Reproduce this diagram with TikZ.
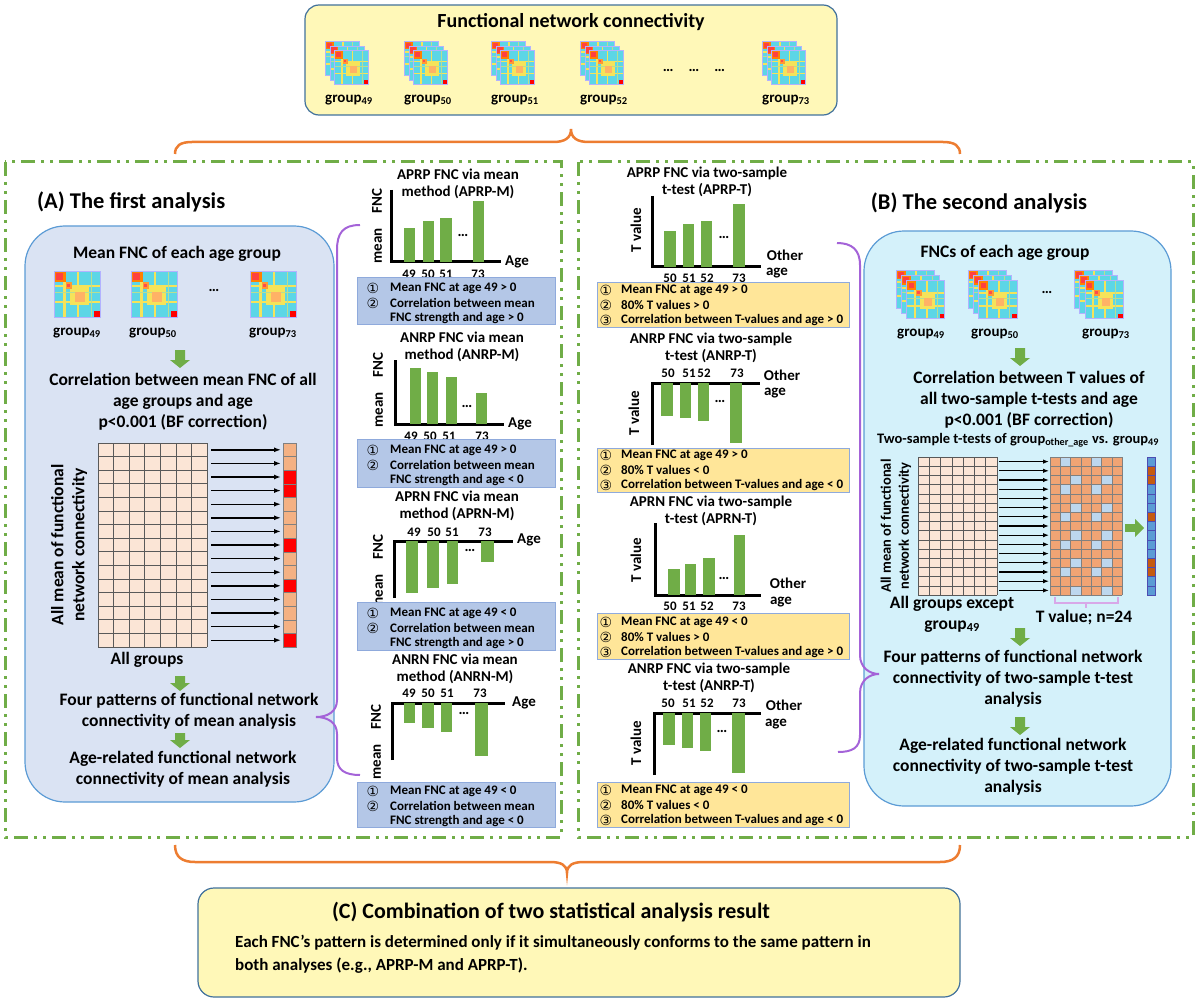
\documentclass[tikz,border=0pt]{standalone}
\usepackage{fontspec}
\setmainfont{Carlito}
\newfontfamily\djv{DejaVu Sans}
\usetikzlibrary{arrows.meta}
\definecolor{ybox}{HTML}{FFF8B8}
\definecolor{ybord}{HTML}{41719C}
\definecolor{abox}{HTML}{DAE3F3}
\definecolor{bbox}{HTML}{D4F1FA}
\definecolor{bbord}{HTML}{5B9BD5}
\definecolor{gdash}{HTML}{70AD47}
\definecolor{obr}{HTML}{ED7D31}
\definecolor{pbr}{HTML}{A463D8}
\definecolor{barg}{HTML}{70AD47}
\definecolor{mbox}{HTML}{B4C7E7}
\definecolor{mbord}{HTML}{8FAADC}
\definecolor{tbox}{HTML}{FFE699}
\definecolor{cellc}{HTML}{FBE5D6}
\definecolor{corg}{HTML}{F4B183}
\definecolor{torg}{HTML}{F1A474}
\definecolor{tblu}{HTML}{BDD7EE}
\definecolor{rblu}{HTML}{5B9BD5}
\definecolor{rbrn}{HTML}{C55A11}
\definecolor{thc}{HTML}{5CD6E6}
\definecolor{thy}{HTML}{F5E35A}
\definecolor{pinkb}{HTML}{D8A8E8}
\tikzset{
 txt/.style={font=\fontsize{17.5}{21}\selectfont\bfseries, align=center, inner sep=0pt},
 ttl/.style={font=\fontsize{15}{17.5}\selectfont\bfseries, align=center, inner sep=0pt},
 sml/.style={font=\fontsize{13}{15}\selectfont\bfseries, inner sep=0pt},
 cir/.style={font=\fontsize{14}{15}\selectfont\djv, inner sep=0pt},
 num/.style={font=\fontsize{13}{14}\selectfont\bfseries, inner sep=0pt},
 head/.style={font=\fontsize{22.5}{24}\selectfont\bfseries, inner sep=0pt},
 axl/.style={font=\fontsize{15}{16}\selectfont\bfseries, inner sep=0pt},
 axis/.style={line width=3pt, line join=miter},
 gbox/.style={draw=gdash, line width=3pt, dash pattern=on 14pt off 6pt on 3pt off 6pt on 3pt off 6pt},
 brace/.style={line width=2.5pt, obr},
 pbrace/.style={line width=2pt, pbr},
 arr/.style={-{Latex[length=7pt,width=5pt]}, line width=1.4pt},
}
\newcommand\cbar[4]{\fill[barg] (#1,#3) rectangle (#2,#4);}
\newcommand\garrow[3]{\fill[barg] ({#1-5},#2) -- ({#1+5},#2) -- ({#1+5},{#3-8}) -- ({#1+10},{#3-8}) -- (#1,#3) -- ({#1-10},{#3-8}) -- ({#1-5},{#3-8}) -- cycle;}
\newcommand\thumb[3]{%
\begin{scope}[shift={(#1,#2)},scale=#3/40]
\fill[thc] (0,0) rectangle (40,40);
\fill[thy] (14,14) rectangle (30,30);
\fill[thy] (0,12) rectangle (40,14);\fill[thy] (20,0) rectangle (22,40);
\fill[thy] (0,26) rectangle (40,28);\fill[thy] (8,0) rectangle (10,40);
\fill[thy!60!thc] (0,18) rectangle (40,19);\fill[thy!60!thc] (32,0) rectangle (33,40);
\fill[orange] (0,0) rectangle (10,10);\fill[red!75] (2,2) rectangle (8,8);
\fill[orange!80] (10,10) rectangle (16,16);\fill[red!70] (11,11) rectangle (14,14);
\fill[orange!60] (18,18) rectangle (27,27);
\fill[red] (35,35) rectangle (40,40);
\draw[white!70!blue,line width=0.3pt] (0,0) rectangle (40,40);
\end{scope}}
\newcommand\sthumb[3]{\thumb{#1}{#2}{#3}\thumb{#1+0.14*#3}{#2+0.14*#3}{#3}\thumb{#1+0.28*#3}{#2+0.28*#3}{#3}}
\begin{document}
\begin{tikzpicture}[x=1pt,y=-1pt]
\useasboundingbox (0,0) rectangle (1200,1003);
% ---------- top box
\draw[ybord, fill=ybox, line width=1.2pt, rounded corners=14pt] (305,5) rectangle (837,115);
\node[font=\fontsize{20}{22}\selectfont\bfseries] (toptitle) at (571,22) {Functional network connectivity};
\foreach \cx/\lab [count=\k] in {349/49,428/50,515/51,604/52,786/73}{
 \sthumb{\cx-24}{41}{34}
 \node[axl] (tg\k) at (\cx,100) {group\textsubscript{\lab}};}
\node[axl] (tdots) at (694,70) {\dots\quad\dots\quad\dots};
% top brace
\draw[brace] (175,154) .. controls (175,146) and (180,142) .. (192,142) -- (553,142) .. controls (565,142) and (571,138) .. (571,129) .. controls (571,138) and (577,142) .. (589,142) -- (943,142) .. controls (955,142) and (960,146) .. (960,154);
% dashed frames
\draw[gbox] (5,162) rectangle (561,837);
\draw[gbox] (578,162) rectangle (1193,837);
% ---------- (A)
\node[head,anchor=west] (Ah) at (37,202) {(A) The first analysis};
\draw[bbord, fill=abox, line width=1.2pt, rounded corners=40pt] (25,226) rectangle (334,802);
\node[txt] (a1) at (177,254) {Mean FNC of each age group};
\thumb{54}{271}{46}\thumb{131}{271}{46}\thumb{250}{271}{46}
\node[axl] (ag1) at (77,333) {group\textsubscript{49}};
\node[axl] (ag2) at (153,333) {group\textsubscript{50}};
\node[axl] (ag3) at (273,333) {group\textsubscript{73}};
\node[axl] (adots) at (214,290) {\dots};
\garrow{180}{350}{368}
\node[txt] (a2) at (183,402) {Correlation between mean FNC of all\\age groups and age\\p<0.001 (BF correction)};
\fill[cellc] (98,443) rectangle (207,647);
\foreach \i in {0,...,7} \draw[gray!70!black,line width=0.7pt] ({98+15.57*\i},443) -- ({98+15.57*\i},647);
\foreach \i in {0,...,15} \draw[gray!70!black,line width=0.7pt] (98,{443+13.6*\i}) -- (207,{443+13.6*\i});
\foreach \i in {0,...,14}{
 \draw[arr] (211,{449.8+13.6*\i}) -- (281,{449.8+13.6*\i});
 \fill[corg] (283,{443+13.6*\i}) rectangle (296,{456.6+13.6*\i});}
\foreach \i in {2,3,7,10,14} \fill[red] (283,{443+13.6*\i}) rectangle (296,{456.6+13.6*\i});
\foreach \i in {0,...,15} \draw[gray,line width=0.5pt] (283,{443+13.6*\i}) -- (296,{443+13.6*\i});
\draw[gray,line width=0.5pt] (283,443) rectangle (296,647);
\node[txt,rotate=90] (arot) at (69,545) {All mean of functional\\network connectivity};
\node[txt] (a3) at (147,660) {All groups};
\garrow{180}{676}{691}
\node[txt] (a4) at (189,711) {Four patterns of functional network\\connectivity of mean analysis};
\garrow{180}{733}{748}
\node[txt] (a5) at (183,769) {Age-related functional network\\connectivity of mean analysis};
% left purple brace
\draw[pbrace] (360,225) .. controls (343,225) and (337,233) .. (337,250) -- (337,700) .. controls (337,712) and (327,717) .. (316,717) .. controls (327,717) and (337,722) .. (337,734) -- (337,758) .. controls (337,770) and (345,775) .. (360,775);
% ---------- mean charts
\node[ttl] (m1t) at (458,184) {APRP FNC via mean\\method (APRP-M)};
\draw[axis] (391,190) -- (391,262) -- (501,262);
\cbar{404}{415}{262}{228}\cbar{423}{434}{262}{221}\cbar{440}{452}{262}{218}\cbar{473}{484}{262}{201}
\node[axl] (m1d) at (463,235) {\dots};
\foreach \xx/\l in {409/49,428/50,446/51,478/73} \node[num] at (\xx,274) {\l};
\node[axl,anchor=west] (m1a) at (505,262) {Age};
\node[axl,rotate=90] (m1y) at (377,226) {mean\quad FNC};
\draw[mbord,fill=mbox,line width=1pt] (357,278) rectangle (555,324);
\node[cir] at (373,288) {①}; \node[sml,anchor=west] at (390,288) {Mean FNC at age 49 > 0};
\node[cir] at (373,303) {②}; \node[sml,anchor=west] at (390,303) {Correlation between mean};
\node[sml,anchor=west] at (390,318) {FNC strength and age > 0};
%
\node[ttl] (m2t) at (462,347) {ANRP FNC via mean\\method (ANRP-M)};
\draw[axis] (395,360) -- (395,424) -- (504,424);
\cbar{410}{421}{424}{368}\cbar{427}{438}{424}{372}\cbar{446}{457}{424}{377}\cbar{476}{487}{424}{393}
\node[axl] (m2d) at (467,406) {\dots};
\foreach \xx/\l in {411/49,430/50,449/51,482/73} \node[num] at (\xx,436) {\l};
\node[axl,anchor=west] (m2a) at (508,424) {Age};
\node[axl,rotate=90] (m2y) at (378,390) {mean\quad FNC};
\draw[mbord,fill=mbox,line width=1pt] (357,439) rectangle (555,487);
\node[cir] at (373,450) {①}; \node[sml,anchor=west] at (390,450) {Mean FNC at age 49 > 0};
\node[cir] at (373,465) {②}; \node[sml,anchor=west] at (390,465) {Correlation between mean};
\node[sml,anchor=west] at (390,480) {FNC strength and age < 0};
%
\node[ttl] (m3t) at (457,506) {APRN FNC via mean\\method (APRN-M)};
\draw[axis] (394,598) -- (394,541) -- (513,541);
\cbar{406}{418}{541}{593}\cbar{427}{439}{541}{588}\cbar{447}{458}{541}{584}\cbar{481}{494}{541}{562}
\node[axl] (m3d) at (470,550) {\dots};
\foreach \xx/\l in {414/49,434/50,452/51,485/73} \node[num] at (\xx,532) {\l};
\node[axl,anchor=west] (m3a) at (517,540) {Age};
\node[axl,rotate=90] (m3y) at (378,572) {mean\quad FNC};
\draw[mbord,fill=mbox,line width=1pt] (357,602) rectangle (555,650);
\node[cir] at (373,613) {①}; \node[sml,anchor=west] at (390,613) {Mean FNC at age 49 < 0};
\node[cir] at (373,628) {②}; \node[sml,anchor=west] at (390,628) {Correlation between mean};
\node[sml,anchor=west] at (390,643) {FNC strength and age > 0};
%
\node[ttl] (m4t) at (455,669) {ANRN FNC via mean\\method (ANRN-M)};
\draw[axis] (392,760) -- (392,703) -- (505,703);
\cbar{404}{415}{703}{723}\cbar{422}{434}{703}{728}\cbar{441}{452}{703}{732}\cbar{475}{488}{703}{756}
\node[axl] (m4d) at (464,713) {\dots};
\foreach \xx/\l in {409/49,428/50,447/51,480/73} \node[num] at (\xx,693) {\l};
\node[axl,anchor=west] (m4a) at (512,703) {Age};
\node[axl,rotate=90] (m4y) at (376,742) {mean\quad FNC};
\draw[mbord,fill=mbox,line width=1pt] (357,782) rectangle (555,827);
\node[cir] at (373,791) {①}; \node[sml,anchor=west] at (390,791) {Mean FNC at age 49 < 0};
\node[cir] at (373,806) {②}; \node[sml,anchor=west] at (390,806) {Correlation between mean};
\node[sml,anchor=west] at (390,821) {FNC strength and age < 0};
% ---------- T charts
\node[ttl] (t1t) at (707,182) {APRP FNC via two-sample\\t-test (APRP-T)};
\draw[axis] (652,196) -- (652,267) -- (761,267);
\cbar{664}{676}{267}{231}\cbar{683}{694}{267}{224}\cbar{701}{712}{267}{221}\cbar{733}{745}{267}{204}
\node[axl] (t1d) at (724,237) {\dots};
\foreach \xx/\l in {670/50,689/51,707/52,739/73} \node[num] at (\xx,278) {\l};
\node[axl] (t1o) at (785,255) {Other}; \node[axl] (t1g) at (777,273) {age};
\node[axl,rotate=90] (t1y) at (636,230) {T value};
\draw[mbord,fill=tbox,line width=1pt] (597,283) rectangle (849,327);
\node[cir] at (606,290) {①}; \node[sml,anchor=west] at (621,290) {Mean FNC at age 49 > 0};
\node[cir] at (606,305) {②}; \node[sml,anchor=west] at (621,305) {80\% T values > 0};
\node[cir] at (606,320) {③}; \node[sml,anchor=west] at (621,320) {Correlation between T-values and age > 0};
%
\node[ttl] (t2t) at (711,348) {ANRP FNC via two-sample\\t-test (ANRP-T)};
\draw[axis] (652,445) -- (652,383) -- (760,383);
\cbar{661}{673}{383}{416}\cbar{680}{691}{383}{418}\cbar{698}{709}{383}{421}\cbar{730}{742}{383}{443}
\node[axl] (t2d) at (720,401) {\dots};
\foreach \xx/\l in {668/50,689/51,704/52,737/73} \node[num] at (\xx,373) {\l};
\node[axl] (t2o) at (782,375) {Other}; \node[axl] (t2g) at (775,393) {age};
\node[axl,rotate=90] (t2y) at (634,413) {T value};
\draw[mbord,fill=tbox,line width=1pt] (597,448) rectangle (849,492);
\node[cir] at (606,455) {①}; \node[sml,anchor=west] at (621,455) {Mean FNC at age 49 > 0};
\node[cir] at (606,470) {②}; \node[sml,anchor=west] at (621,470) {80\% T values < 0};
\node[cir] at (606,485) {③}; \node[sml,anchor=west] at (621,485) {Correlation between T-values and age < 0};
%
\node[ttl] (t3t) at (711,511) {APRN FNC via two-sample\\t-test (APRN-T)};
\draw[axis] (655,523) -- (655,595) -- (761,595);
\cbar{668}{680}{595}{569}\cbar{685}{696}{595}{564}\cbar{703}{715}{595}{558}\cbar{734}{745}{595}{535}
\node[axl] (t3d) at (724,578) {\dots};
\foreach \xx/\l in {670/50,689/51,707/52,739/73} \node[num] at (\xx,606) {\l};
\node[axl] (t3o) at (788,583) {Other}; \node[axl] (t3g) at (781,602) {age};
\node[axl,rotate=90] (t3y) at (636,560) {T value};
\draw[mbord,fill=tbox,line width=1pt] (597,613) rectangle (849,659);
\node[cir] at (606,622) {①}; \node[sml,anchor=west] at (621,622) {Mean FNC at age 49 < 0};
\node[cir] at (606,637) {②}; \node[sml,anchor=west] at (621,637) {80\% T values > 0};
\node[cir] at (606,652) {③}; \node[sml,anchor=west] at (621,652) {Correlation between T-values and age > 0};
%
\node[ttl] (t4t) at (709,678) {ANRP FNC via two-sample\\t-test (ANRP-T)};
\draw[axis] (654,775) -- (654,713) -- (761,713);
\cbar{663}{675}{713}{745}\cbar{682}{693}{713}{748}\cbar{700}{711}{713}{751}\cbar{732}{745}{713}{773}
\node[axl] (t4d) at (722,731) {\dots};
\foreach \xx/\l in {668/50,689/51,707/52,739/73} \node[num] at (\xx,703) {\l};
\node[axl] (t4o) at (784,705) {Other}; \node[axl] (t4g) at (776,724) {age};
\node[axl,rotate=90] (t4y) at (636,743) {T value};
\draw[mbord,fill=tbox,line width=1pt] (597,782) rectangle (849,827);
\node[cir] at (606,790) {①}; \node[sml,anchor=west] at (621,790) {Mean FNC at age 49 < 0};
\node[cir] at (606,805) {②}; \node[sml,anchor=west] at (621,805) {80\% T values < 0};
\node[cir] at (606,820) {③}; \node[sml,anchor=west] at (621,820) {Correlation between T-values and age < 0};
% ---------- (B)
\node[head] (Bh) at (979,203) {(B) The second analysis};
\draw[bbord, fill=bbox, line width=1.2pt, rounded corners=40pt] (864,231) rectangle (1171,806);
\node[txt] (b1) at (1005,253) {FNCs of each age group};
\sthumb{896}{270}{38}\sthumb{968}{270}{38}\sthumb{1074}{270}{38}
\node[axl] (bg1) at (921,334) {group\textsubscript{49}};
\node[axl] (bg2) at (995,334) {group\textsubscript{50}};
\node[axl] (bg3) at (1106,334) {group\textsubscript{73}};
\node[axl] (bdots) at (1047,292) {\dots};
\garrow{1020}{348}{366}
\node[txt] (b2) at (1029,400) {Correlation between T values of\\all two-sample t-tests and age\\p<0.001 (BF correction)};
\node[font=\fontsize{14.5}{16}\selectfont\bfseries] (b3) at (1018,440) {Two-sample t-tests of group\textsubscript{other\_age} vs. group\textsubscript{49}};
\fill[cellc] (918,457) rectangle (997,595);
\foreach \i in {0,...,7} \draw[gray!70!black,line width=0.6pt] ({918+11.29*\i},457) -- ({918+11.29*\i},595);
\foreach \i in {0,...,15} \draw[gray!70!black,line width=0.6pt] (918,{457+9.2*\i}) -- (997,{457+9.2*\i});
\foreach \i in {0,...,14}{
 \draw[-{Latex[length=6pt,width=4.5pt]},line width=1.3pt] (999,{461.6+9.2*\i}) -- (1049,{461.6+9.2*\i});
 \foreach \j in {0,...,6}{
  \pgfmathtruncatemacro\cc{mod(\i*3+\j*5+\i*\j+1,3)}
  \ifnum\cc=0 \fill[tblu] ({1050+10.29*\j},{457+9.2*\i}) rectangle ++(10.29,9.2);
  \else \fill[torg] ({1050+10.29*\j},{457+9.2*\i}) rectangle ++(10.29,9.2); \fi}
 \fill[rblu] (1147,{457+9.2*\i}) rectangle ++(8,9.2);}
\foreach \i in {1,2,6,11,12} \fill[rbrn] (1147,{457+9.2*\i}) rectangle ++(8,9.2);
\foreach \i in {0,...,7} \draw[gray,line width=0.5pt] ({1050+10.29*\i},457) -- ({1050+10.29*\i},595);
\foreach \i in {0,...,15} {\draw[gray,line width=0.5pt] (1050,{457+9.2*\i}) -- (1122,{457+9.2*\i});
 \draw[gray!60!blue,line width=0.4pt] (1147,{457+9.2*\i}) -- (1155,{457+9.2*\i});}
\draw[gray!60!blue,line width=0.5pt] (1147,457) rectangle (1155,595);
\fill[barg] (1125,524) rectangle (1135,532);
\fill[barg] (1135,519) -- (1144,528) -- (1135,537) -- cycle;
\draw[pinkb,line width=1.5pt] (1055,597) -- (1055,603) -- (1118,603) -- (1118,597);
\draw[pinkb,line width=1.5pt] (1086,603) -- (1086,608);
\node[font=\fontsize{14.5}{18}\selectfont\bfseries, align=center, inner sep=0pt,rotate=90] (brot) at (896,526) {All mean of functional\\network connectivity};
\node[txt] (b4) at (952,614) {All groups except\\group\textsubscript{49}};
\node[txt] (b5) at (1084,618) {T value; n=24};
\garrow{1020}{628}{646}
\node[txt] (b6) at (1013,679) {Four patterns of functional network\\connectivity of two-sample t-test\\analysis};
\garrow{1020}{717}{735}
\node[txt] (b7) at (1013,767) {Age-related functional network\\connectivity of two-sample t-test\\analysis};
% right purple brace
\draw[pbrace] (837,243) .. controls (852,243) and (860,250) .. (860,265) -- (860,655) .. controls (860,668) and (870,674) .. (879,674) .. controls (870,674) and (860,680) .. (860,693) -- (860,735) .. controls (860,748) and (852,752) .. (838,752);
% bottom brace
\draw[brace] (175,845) .. controls (175,857) and (182,862) .. (195,862) -- (550,862) .. controls (561,862) and (567,865) .. (567,873) .. controls (567,865) and (573,862) .. (584,862) -- (940,862) .. controls (953,862) and (960,857) .. (960,845);
% ---------- (C)
\draw[ybord, fill=ybox, line width=1.2pt, rounded corners=16pt] (198,888) rectangle (960,997);
\node[font=\fontsize{22}{24}\selectfont\bfseries] (ct) at (551,912) {(C) Combination of two statistical analysis result};
\node[font=\fontsize{17}{23}\selectfont\bfseries, align=left, anchor=north west, inner sep=0pt] (cb) at (235,935) {Each FNC’s pattern is determined only if it simultaneously conforms to the same pattern in\\both analyses (e.g., APRP-M and APRP-T).};
\end{tikzpicture}
\end{document}
